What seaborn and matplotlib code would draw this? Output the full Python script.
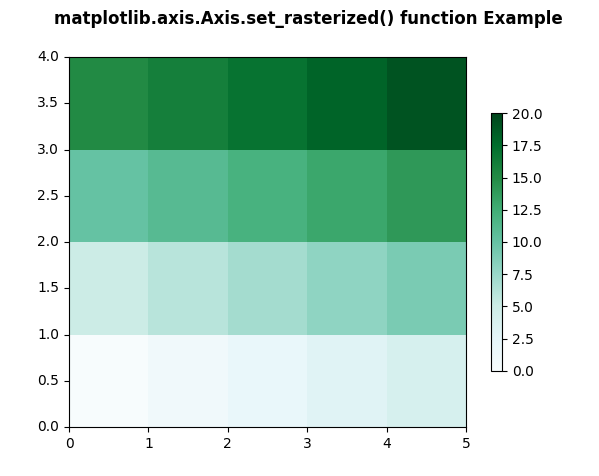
import numpy as np
import matplotlib
matplotlib.use("Agg")
import matplotlib.pyplot as plt
import seaborn as sns

# cell values, bottom row first
row0 = [0, 1, 2, 3, 4]
row1 = [5, 6, 7, 8, 9]
row2 = [10, 11, 12, 13, 14]
row3 = [15, 16, 17, 18, 19]
x_ticks = [0, 1, 2, 3, 4, 5]
y_ticks = [0.0, 0.5, 1.0, 1.5, 2.0, 2.5, 3.0, 3.5, 4.0]
cbar_ticks = [0, 2.5, 5, 7.5, 10, 12.5, 15, 17.5, 20]

data = np.array([row0, row1, row2, row3])

fig = plt.figure(figsize=(5.99, 4.76), dpi=100)
ax = fig.add_axes([0.1152, 0.103, 0.663, 0.777])
cax = fig.add_axes([0.8197, 0.2206, 0.0184, 0.542])

sns.heatmap(data, ax=ax, cbar_ax=cax, cmap="BuGn", vmin=0, vmax=20)
ax.invert_yaxis()
ax.set_aspect("auto")

ax.set_xticks(x_ticks, labels=[str(v) for v in x_ticks], rotation=0)
ax.set_yticks(y_ticks, labels=[f"{v:.1f}" for v in y_ticks], rotation=0)
ax.tick_params(length=3.5, width=0.8, labelsize=10, left=True, bottom=True)
for s in ax.spines.values():
    s.set_visible(True)
    s.set_linewidth(0.8)

cbar = ax.collections[0].colorbar
cbar.outline.set_linewidth(0.8)
cbar.outline.set_edgecolor("black")
cbar.set_ticks(cbar_ticks)
cbar.ax.tick_params(length=3.5, width=0.8, labelsize=10)

fig.suptitle("matplotlib.axis.Axis.set_rasterized() function Example",
             fontsize=12, fontweight="bold", x=0.515)

fig.savefig("out.png", dpi=100)
